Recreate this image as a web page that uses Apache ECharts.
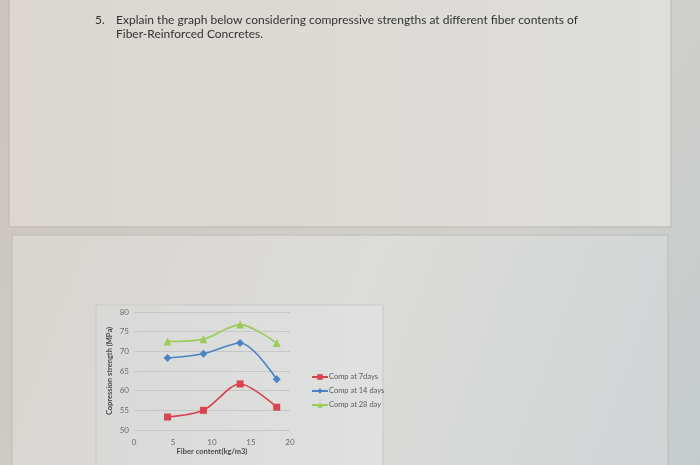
<!DOCTYPE html>
<html>
<head>
<meta charset="utf-8">
<script src="https://cdn.jsdelivr.net/npm/echarts@6/dist/echarts.min.js"></script>
<style>
html,body{margin:0;padding:0;background:#cfcac4;}
#chart{width:700px;height:465px;}
</style>
</head>
<body>
<div id="chart"></div>
<script>
// Data
const fiberContent = [4.3, 8.9, 13.6, 18.3];
const comp7 = [53.3, 55.0, 61.7, 55.8];
const comp14 = [68.3, 69.4, 72.1, 62.9];
const comp28 = [72.5, 73.1, 76.8, 72.1];
const seriesNames = ['Comp at 7days', 'Comp at 14 days', 'Comp at 28 day'];
const xTicks = [0, 5, 10, 15, 20];
const yTicks = [50, 55, 60, 65, 70, 75, 80];
const questionLines = [
  'Explain the graph below considering compressive strengths at different fiber contents of',
  'Fiber-Reinforced Concretes.'
];

function pairs(xs, ys) { return xs.map((x, i) => [x, ys[i]]); }

const chart = echarts.init(document.getElementById('chart'));
const font = 'Lato, "Open Sans", sans-serif';

chart.setOption({
  animation: false,
  backgroundColor: {
    type: 'linear', x: 0, y: 0, x2: 1, y2: 1,
    colorStops: [{offset: 0, color: '#cbc4bd'}, {offset: 0.6, color: '#d1cfca'}, {offset: 1, color: '#c6ccce'}]
  },
  graphic: [
    // answer box (top)
    {type: 'rect', z: -10, shape: {x: 9, y: -2, width: 662, height: 229},
      style: {fill: {type: 'linear', x: 0, y: 0, x2: 1, y2: 0, colorStops: [{offset: 0, color: '#dbd6d0'}, {offset: 1, color: '#dededa'}]},
        stroke: '#b9b5b0', lineWidth: 1}},
    // lower box
    {type: 'rect', z: -10, shape: {x: 12, y: 235, width: 656, height: 240},
      style: {fill: {type: 'linear', x: 0, y: 0, x2: 1, y2: 1, colorStops: [{offset: 0, color: '#d8d5d0'}, {offset: 0.5, color: '#dcdcd9'}, {offset: 1, color: '#cfd4d5'}]},
        stroke: '#bdbbb7', lineWidth: 1}},
    // chart area
    {type: 'rect', z: -9, shape: {x: 96, y: 305, width: 287, height: 170},
      style: {fill: {type: 'linear', x: 0, y: 0, x2: 1, y2: 0, colorStops: [{offset: 0, color: '#d9dad8'}, {offset: 1, color: '#dfe1e0'}]},
        stroke: '#c8c8c6', lineWidth: 1}},
    {type: 'text', left: 95, top: 14, style: {text: '5.', font: '12px ' + font, fill: '#333333'}},
    {type: 'text', left: 116, top: 14, style: {text: questionLines[0], font: '12px ' + font, fill: '#333333'}},
    {type: 'text', left: 116, top: 28, style: {text: questionLines[1], font: '12px ' + font, fill: '#333333'}}
  ],
  legend: {
    orient: 'vertical',
    left: 306, top: 368,
    itemWidth: 16, itemHeight: 7, itemGap: 6,
    textStyle: {fontFamily: font, fontSize: 7.5, color: '#5a5a5a', padding: [0, 0, 0, -4]},
    data: seriesNames
  },
  grid: {left: 134, right: 410, top: 312, bottom: 35},
  xAxis: {
    type: 'value', min: 0, max: 20, interval: 5,
    name: 'Fiber content(kg/m3)', nameLocation: 'middle', nameGap: 18,
    nameTextStyle: {fontFamily: font, fontSize: 7.5, color: '#4a4a4a', fontWeight: 'bold'},
    axisLine: {show: false}, axisTick: {show: false}, splitLine: {show: false},
    axisLabel: {fontFamily: font, fontSize: 8, color: '#6a6a6a', margin: 8,
      formatter: v => xTicks.includes(v) ? String(v) : ''}
  },
  yAxis: {
    type: 'value', min: 50, max: 80, interval: 5,
    name: 'Copression strength (MPa)', nameLocation: 'middle', nameGap: 20,
    nameTextStyle: {fontFamily: font, fontSize: 7.5, color: '#4a4a4a', fontWeight: 'bold'},
    axisLine: {show: false}, axisTick: {show: false},
    splitLine: {lineStyle: {color: '#c5c7c6', width: 1}},
    axisLabel: {fontFamily: font, fontSize: 8, color: '#6a6a6a', margin: 5,
      formatter: v => yTicks.includes(v) ? String(v) : ''}
  },
  series: [
    {name: seriesNames[0], type: 'line', smooth: 0.3, data: pairs(fiberContent, comp7),
      symbol: 'rect', symbolSize: 7, color: '#d9454f', lineStyle: {width: 1.6}},
    {name: seriesNames[1], type: 'line', smooth: 0.3, data: pairs(fiberContent, comp14),
      symbol: 'diamond', symbolSize: 8, color: '#4a84c4', lineStyle: {width: 1.6}},
    {name: seriesNames[2], type: 'line', smooth: 0.3, data: pairs(fiberContent, comp28),
      symbol: 'triangle', symbolSize: 8, color: '#9ccb5a', lineStyle: {width: 1.6}}
  ]
});
</script>
</body>
</html>
